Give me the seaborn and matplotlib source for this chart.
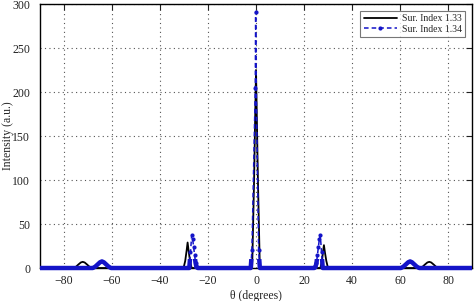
import numpy as np
import pandas as pd
import matplotlib
matplotlib.use("Agg")
import matplotlib.pyplot as plt
from matplotlib.patches import Rectangle
import seaborn as sns

# ---- data ----
theta_133 = [-90, -76, -75, -74, -73, -72.2, -71.4, -70.4, -69.4, -68.4,
             -30.2, -29.5, -28.9, -28.5, -28.1, -27.5, -26.8,
             -1.6, -0.8, 0.0, 0.8, 1.6,
             26.8, 27.5, 27.9, 28.3, 28.7, 29.3, 30.0,
             68.4, 69.4, 70.4, 71.4, 72.2, 73, 74, 75, 76, 90]
int_133 = [0, 0, 1.5, 4, 6.3, 7, 6.3, 4, 1.5, 0,
           0, 8, 20, 29, 20, 8, 0,
           0, 100, 225, 100, 0,
           0, 8, 18, 26, 18, 8, 0,
           0, 1.5, 4, 6.3, 7, 6.3, 4, 1.5, 0, 0]

theta_134 = [-90, -68, -67, -66, -65, -64.2, -63.4, -62.4, -61.4, -60.4,
             -27.8, -27.3, -26.8, -26.4, -26.0, -25.6, -25.2, -24.8, -24.3,
             -2.2, -1.7, -0.3, -0.15, 0.1, 1.1, 1.6,
             24.3, 24.8, 25.2, 25.6, 26.0, 26.4, 26.8, 27.3, 27.8,
             60.4, 61.4, 62.4, 63.4, 64.2, 65, 66, 67, 68, 90]
int_134 = [0, 0, 1.5, 4, 6.5, 7.5, 6.5, 4, 1.5, 0,
           0, 18, 37, 33, 24, 15, 6, 1, 0,
           0, 20, 204, 291, 204, 20, 0,
           0, 1, 6, 15, 24, 33, 37, 18, 0,
           0, 1.5, 4, 6.5, 7.5, 6.5, 4, 1.5, 0, 0]

labels = ["Sur. Index 1.33", "Sur. Index 1.34"]
x_ticks = [-80, -60, -40, -20, 0, 20, 40, 60, 80]
y_ticks = [0, 50, 100, 150, 200, 250, 300]

df133 = pd.DataFrame({"theta": theta_133, "I": int_133})
df134 = pd.DataFrame({"theta": theta_134, "I": int_134})

sns.set_style("white")
plt.rcParams["font.family"] = ["Liberation Serif", "DejaVu Serif"]

fig = plt.figure(figsize=(4.74, 3.01), dpi=100)
ax = fig.add_axes([0.0844, 0.1096, 0.9114, 0.8771])

blue = "#1414c8"

sns.lineplot(data=df133, x="theta", y="I", ax=ax, color="black", lw=1.3,
             sort=False, label=labels[0], zorder=3)
sns.lineplot(data=df134, x="theta", y="I", ax=ax, color=blue, lw=1.1,
             sort=False, label=labels[1], zorder=4,
             marker="o", markersize=3, markeredgewidth=0,
             linestyle=(0, (3, 2)),
             markevery=[11, 12, 13, 14, 15, 16, 17, 20, 21, 22, 24,
                        28, 29, 30, 31, 32, 33])
# thick low-intensity trace (dense sample markers in the original)
sns.lineplot(data=df134, x="theta", y="I", ax=ax, color=blue, lw=3.2,
             sort=False, zorder=4, legend=False)
thick = ax.lines[-1]
clip = Rectangle((-90, -20), 180, 30, transform=ax.transData)
thick.set_clip_path(clip)

ax.set_xlim(-90, 90)
ax.set_ylim(0, 300)
ax.set_xticks(x_ticks)
ax.set_yticks(y_ticks)
ax.set_xticklabels([f"\u2212{abs(v)}" if v < 0 else str(v) for v in x_ticks])
ax.grid(True, linestyle=(0, (1, 3)), color="#555555", lw=0.8)
ax.set_axisbelow(True)
ax.tick_params(direction="in", top=True, right=True, length=4, width=0.8,
               labelsize=8.5, colors="#222222")
ax.tick_params(axis="y", pad=7)
ax.tick_params(axis="x", pad=5)
for s in ax.spines.values():
    s.set_linewidth(1.0)
    s.set_color("black")

ax.set_xlabel("\u03b8 (degrees)", fontsize=8.5, labelpad=2)
ax.set_ylabel("Intensity (a.u.)", fontsize=8.5)
ax.yaxis.set_label_coords(-0.06, 0.5)

leg = ax.legend(loc="upper right", fontsize=7, frameon=True, fancybox=False,
                edgecolor="#555555", borderpad=0.35, handlelength=3.4,
                labelspacing=0.15, borderaxespad=0.7, handletextpad=0.5)
leg.get_frame().set_linewidth(0.8)

fig.savefig("out.png", dpi=100)
